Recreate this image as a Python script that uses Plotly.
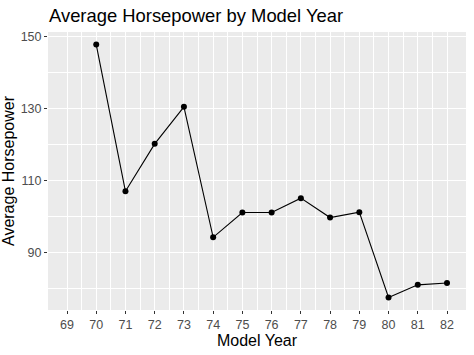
import plotly.graph_objects as go

years = [70, 71, 72, 73, 74, 75, 76, 77, 78, 79, 80, 81, 82]
avg_hp = [147.8, 107.0, 120.2, 130.5, 94.2, 101.1, 101.1, 105.1, 99.7, 101.2, 77.5, 81.0, 81.5]
x_ticks = list(range(69, 83))
y_ticks = [90, 110, 130, 150]
title_text = "Average Horsepower by Model Year"

fig = go.Figure()
fig.add_trace(go.Scatter(
    x=years, y=avg_hp, mode="lines+markers",
    line=dict(color="black", width=1.1),
    marker=dict(color="black", size=6),
    showlegend=False,
))

font_family = "Liberation Sans, Arial, sans-serif"
fig.update_layout(
    width=474, height=355,
    margin=dict(l=48, r=8, t=32, b=45),
    paper_bgcolor="white",
    plot_bgcolor="#EBEBEB",
    font=dict(family=font_family, color="black"),
    xaxis=dict(
        range=[68.35, 82.65], tickmode="array", tickvals=x_ticks,
        ticktext=[str(v) for v in x_ticks],
        showgrid=True, gridcolor="white", gridwidth=1.1,
        ticks="outside", ticklen=3, tickcolor="#333333", tickwidth=1,
        tickfont=dict(size=12.5, color="#4D4D4D"),
        title=dict(text="Model Year", font=dict(size=16, color="black"), standoff=2),
        zeroline=False, showline=False, automargin=False,
        minor=dict(tickvals=[v + 0.5 for v in x_ticks[:-1]], showgrid=True,
                   gridcolor="white", gridwidth=0.5, ticks=""),
    ),
    yaxis=dict(
        range=[74.0, 151.3], tickmode="array", tickvals=y_ticks,
        showgrid=True, gridcolor="white", gridwidth=1.1,
        ticks="outside", ticklen=3, tickcolor="#333333", tickwidth=1,
        tickfont=dict(size=12.5, color="#4D4D4D"),
        title=dict(text="Average Horsepower", font=dict(size=16, color="black"), standoff=2),
        zeroline=False, showline=False, automargin=False,
        minor=dict(tickvals=[80, 100, 120, 140], showgrid=True,
                   gridcolor="white", gridwidth=0.5, ticks=""),
    ),
)
fig.add_annotation(
    text=title_text, xref="paper", yref="paper", x=0, y=1,
    xanchor="left", yanchor="bottom", yshift=5, showarrow=False,
    font=dict(size=18.4, color="black"), borderpad=0,
)

fig.write_html("out.html", config={"displayModeBar": False},
               post_script="document.body.style.margin='0';document.body.style.padding='0';")
